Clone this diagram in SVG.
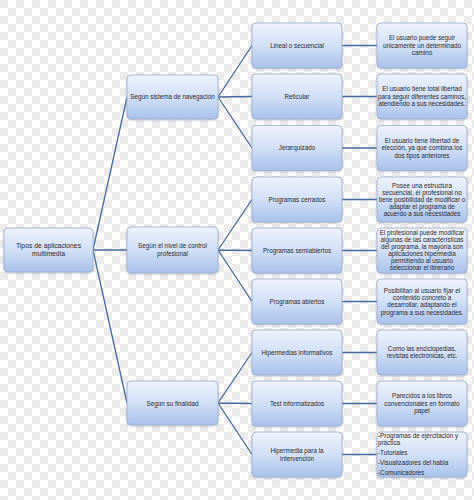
<svg xmlns="http://www.w3.org/2000/svg" width="474" height="500" viewBox="0 0 474 500">
<defs>
<pattern id="checker" patternUnits="userSpaceOnUse" width="16" height="16">
<rect width="16" height="16" fill="#ffffff"/>
<rect width="8" height="8" fill="#ebebeb"/>
<rect x="8" y="8" width="8" height="8" fill="#ebebeb"/>
</pattern>
<linearGradient id="boxfill" x1="0" y1="0" x2="0" y2="1">
<stop offset="0" stop-color="#eef3fc"/>
<stop offset="0.5" stop-color="#d2dff6"/>
<stop offset="1" stop-color="#a9c1ec"/>
</linearGradient>
<filter id="shadow" x="-10%" y="-10%" width="120%" height="130%">
<feDropShadow dx="0" dy="1" stdDeviation="0.8" flood-color="#7a8aa8" flood-opacity="0.45"/>
</filter>
</defs>
<style>
.box{fill:url(#boxfill);stroke:#9eafcc;stroke-width:0.8;filter:url(#shadow)}
.conn{stroke:#46699f;stroke-width:1.3;fill:none}
text{font-family:"Liberation Sans",Arial,sans-serif;fill:#2a2a2a}
.t1{font-size:6.8px;text-anchor:middle}
.t2{font-size:6.3px;text-anchor:middle}
.t3{font-size:6.3px;text-anchor:middle}
.t4{font-size:6.3px;text-anchor:middle}
.t4l{font-size:6.3px;text-anchor:start}
</style>
<rect width="474" height="500" fill="url(#checker)"/>
<g id="connectors">
<path class="conn" d="M93,250 L127,97 M93,250 L127,250 M93,250 L127,403"/>
<path class="conn" d="M218,97 L252,45.5 M218,97 L252,96.5 M218,97 L252,148"/>
<path class="conn" d="M218,250 L252,199.5 M218,250 L252,250.5 M218,250 L252,301.5"/>
<path class="conn" d="M218,403 L252,352.5 M218,403 L252,403.5 M218,403 L252,454.5"/>
<path class="conn" d="M342,45.5 H377 M342,96.5 H377 M342,148 H377 M342,199.5 H377 M342,250.5 H377 M342,301.5 H377 M342,352.5 H377 M342,403.5 H377 M342,454.5 H377"/>
</g>
<g id="root">
<rect class="box" x="4" y="228" width="89" height="44" rx="4"/>
<text class="t1" x="48.5" y="248.3">Tipos de aplicaciones</text>
<text class="t1" x="48.5" y="256.3">multimedia</text>
</g>
<g id="n-navegacion">
<rect class="box" x="127" y="75" width="91" height="44" rx="4"/>
<text class="t2" x="172.5" y="99.3">Según sistema de navegación</text>
</g>
<g id="n-control">
<rect class="box" x="127" y="227" width="91" height="46" rx="4"/>
<text class="t2" x="172.5" y="248.3">Según el nivel de control</text>
<text class="t2" x="172.5" y="256.3">profesional</text>
</g>
<g id="n-finalidad">
<rect class="box" x="127" y="381" width="91" height="44" rx="4"/>
<text class="t2" x="172.5" y="405.8">Según su finalidad</text>
</g>
<g id="n-lineal">
<rect class="box" x="252" y="23" width="90" height="45" rx="4"/>
<text class="t3" x="297" y="47.8">Lineal o secuencial</text>
</g>
<g id="n-reticular">
<rect class="box" x="252" y="74" width="90" height="45" rx="4"/>
<text class="t3" x="297" y="98.8">Reticular</text>
</g>
<g id="n-jerarquizado">
<rect class="box" x="252" y="125.5" width="90" height="45" rx="4"/>
<text class="t3" x="297" y="150.3">Jerarquizado</text>
</g>
<g id="n-cerrados">
<rect class="box" x="252" y="177" width="90" height="45" rx="4"/>
<text class="t3" x="297" y="201.8">Programas cerrados</text>
</g>
<g id="n-semiabiertos">
<rect class="box" x="252" y="228" width="90" height="45" rx="4"/>
<text class="t3" x="297" y="252.8">Programas semiabiertos</text>
</g>
<g id="n-abiertos">
<rect class="box" x="252" y="279" width="90" height="45" rx="4"/>
<text class="t3" x="297" y="303.8">Programas abiertos</text>
</g>
<g id="n-hiperinfo">
<rect class="box" x="252" y="330" width="90" height="45" rx="4"/>
<text class="t3" x="297" y="354.8">Hipermedias informativos</text>
</g>
<g id="n-test">
<rect class="box" x="252" y="381" width="90" height="45" rx="4"/>
<text class="t3" x="297" y="405.8">Test informatizados</text>
</g>
<g id="n-hiperinterv">
<rect class="box" x="252" y="432" width="90" height="45" rx="4"/>
<text class="t3" x="297" y="453.3">Hipermedia para la</text>
<text class="t3" x="297" y="460.6">intervención</text>
</g>
<g id="d-lineal">
<rect class="box" x="377" y="23" width="90" height="45" rx="4"/>
<text class="t4" x="422" y="40.1">El usuario puede seguir</text>
<text class="t4" x="422" y="47.6">únicamente un determinado</text>
<text class="t4" x="422" y="55.1">camino</text>
</g>
<g id="d-reticular">
<rect class="box" x="377" y="74" width="90" height="45" rx="4"/>
<text class="t4" x="422" y="91.1">El usuario tiene total libertad</text>
<text class="t4" x="422" y="98.6">para seguir diferentes caminos,</text>
<text class="t4" x="422" y="106.1">atendiendo a sus necesidades.</text>
</g>
<g id="d-jerarquizado">
<rect class="box" x="377" y="125.5" width="90" height="45" rx="4"/>
<text class="t4" x="422" y="142.6">El usuario tiene libertad de</text>
<text class="t4" x="422" y="150.1">elección, ya que combina los</text>
<text class="t4" x="422" y="157.6">dos tipos  anteriores</text>
</g>
<g id="d-cerrados">
<rect class="box" x="377" y="177" width="90" height="45" rx="4"/>
<text class="t4" x="422" y="187.6">Posee una estructura</text>
<text class="t4" x="422" y="194.6">secuencial, el profesional no</text>
<text class="t4" x="422" y="201.6">tiene posibilidad de modificar o</text>
<text class="t4" x="422" y="208.6">adaptar el programa de</text>
<text class="t4" x="422" y="215.6">acuerdo a sus necesidades</text>
</g>
<g id="d-semiabiertos">
<rect class="box" x="377" y="228" width="90" height="45" rx="4"/>
<text class="t4" x="422" y="235.3">El profesional puede modificar</text>
<text class="t4" x="422" y="242.2">algunas de las características</text>
<text class="t4" x="422" y="249.1">del programa, la mayoría son</text>
<text class="t4" x="422" y="256">aplicaciones hipermedia</text>
<text class="t4" x="422" y="262.9">permitiendo al usuario</text>
<text class="t4" x="422" y="269.8">seleccionar el itinerario</text>
</g>
<g id="d-abiertos">
<rect class="box" x="377" y="279" width="90" height="45" rx="4"/>
<text class="t4" x="422" y="292.6">Posibilitan al usuario fijar  el</text>
<text class="t4" x="422" y="299.9">contenido concreto a</text>
<text class="t4" x="422" y="307.2">desarrollar, adaptando el</text>
<text class="t4" x="422" y="314.5">programa a sus necesidades.</text>
</g>
<g id="d-hiperinfo">
<rect class="box" x="377" y="330" width="90" height="45" rx="4"/>
<text class="t4" x="422" y="350.9">Como las enciclopedias,</text>
<text class="t4" x="422" y="358.4">revistas electrónicas,  etc.</text>
</g>
<g id="d-test">
<rect class="box" x="377" y="381" width="90" height="45" rx="4"/>
<text class="t4" x="422" y="398.1">Parecidos a los libros</text>
<text class="t4" x="422" y="405.6">convencionales en formato</text>
<text class="t4" x="422" y="413.1">papel</text>
</g>
<g id="d-hiperinterv">
<rect class="box" x="377" y="432" width="90" height="45" rx="4"/>
<text class="t4l" x="378" y="438.1">-Programas de  ejercitación y</text>
<text class="t4l" x="378" y="445.1">práctica</text>
<text class="t4l" x="378" y="455.1">-Tutoriales</text>
<text class="t4l" x="378" y="465.1">-Visualizadores del habla</text>
<text class="t4l" x="378" y="475.1">-Comunicadores</text>
</g>
</svg>
